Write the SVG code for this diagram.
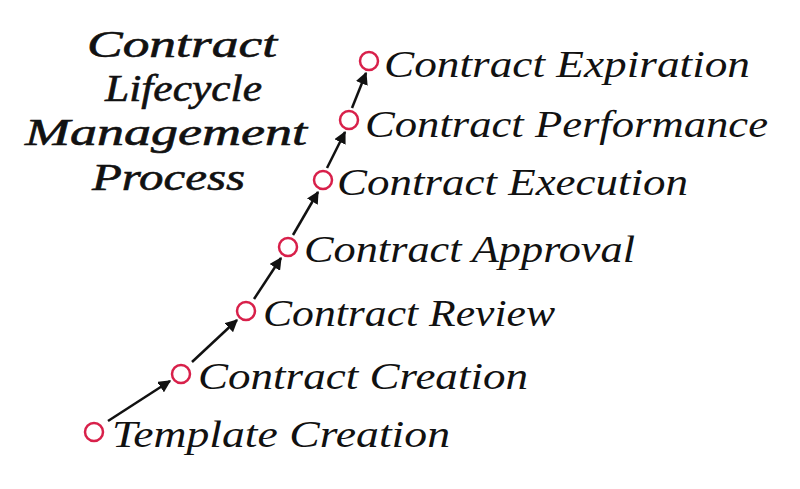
<svg xmlns="http://www.w3.org/2000/svg" width="800" height="489" viewBox="0 0 800 489">
<style>
.t{font-family:"Liberation Serif",serif;font-style:italic;font-size:38px;fill:#111}
.c{fill:#fff;stroke:#d8204a;stroke-width:2.5}
.a{stroke:#111;stroke-width:2.5;fill:none;marker-end:url(#ah)}
</style>
<defs><marker id="ah" viewBox="0 0 10 10" refX="9" refY="5" markerWidth="5" markerHeight="5" orient="auto"><path d="M0,0L10,5L0,10z" fill="#111"/></marker></defs>
<rect width="800" height="489" fill="#fff"/>
<g id="title" class="t" stroke="#111" stroke-width="0.6">
<text x="87" y="57" textLength="190" lengthAdjust="spacingAndGlyphs">Contract</text>
<text x="105" y="101" textLength="157" lengthAdjust="spacingAndGlyphs">Lifecycle</text>
<text x="25" y="145" textLength="282" lengthAdjust="spacingAndGlyphs">Management</text>
<text x="92" y="190" textLength="153" lengthAdjust="spacingAndGlyphs">Process</text>
</g>
<g id="connectors">
<line class="a" x1="108" y1="421" x2="170" y2="381"/>
<line class="a" x1="192" y1="362" x2="237" y2="320"/>
<line class="a" x1="254" y1="299" x2="281" y2="258"/>
<line class="a" x1="293" y1="235" x2="318" y2="192"/>
<line class="a" x1="327" y1="168" x2="345" y2="132"/>
<line class="a" x1="352" y1="108" x2="366" y2="73"/>
</g>
<g id="n1"><circle class="c" cx="94" cy="432" r="9"/><text class="t" x="112" y="447" textLength="338" lengthAdjust="spacingAndGlyphs">Template Creation</text></g>
<g id="n2"><circle class="c" cx="181" cy="374" r="9"/><text class="t" x="198" y="389" textLength="330" lengthAdjust="spacingAndGlyphs">Contract Creation</text></g>
<g id="n3"><circle class="c" cx="246" cy="311" r="9"/><text class="t" x="263" y="326" textLength="292" lengthAdjust="spacingAndGlyphs">Contract Review</text></g>
<g id="n4"><circle class="c" cx="288" cy="247" r="9"/><text class="t" x="304" y="262" textLength="331" lengthAdjust="spacingAndGlyphs">Contract Approval</text></g>
<g id="n5"><circle class="c" cx="323" cy="180" r="9"/><text class="t" x="337" y="195" textLength="351" lengthAdjust="spacingAndGlyphs">Contract Execution</text></g>
<g id="n6"><circle class="c" cx="349" cy="120" r="9"/><text class="t" x="365" y="137" textLength="403" lengthAdjust="spacingAndGlyphs">Contract Performance</text></g>
<g id="n7"><circle class="c" cx="369" cy="61" r="9"/><text class="t" x="384" y="77" textLength="366" lengthAdjust="spacingAndGlyphs">Contract Expiration</text></g>
</svg>
